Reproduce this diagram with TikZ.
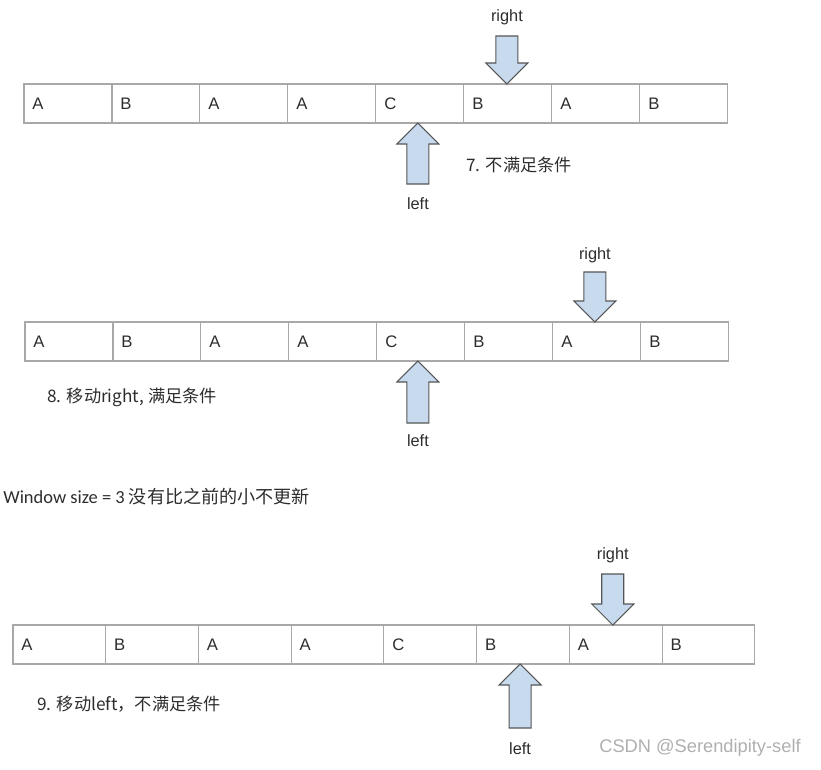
\documentclass[tikz,border=0pt]{standalone}
\usepackage{xcolor}
\usepackage{fontspec}
\usepackage{tikz}
\usetikzlibrary{positioning, calc}
\setmainfont{Liberation Sans}
\newfontfamily\cjk{Noto Sans CJK SC}
\newfontfamily\cali{Carlito}
\definecolor{cellgray}{RGB}{168,168,168}
\definecolor{txtdark}{RGB}{45,45,45}
\definecolor{arrfill}{RGB}{200,219,238}
\definecolor{arrline}{RGB}{85,85,85}
\definecolor{wmgray}{RGB}{175,175,175}
\tikzset{
  cell/.style={rectangle, draw=cellgray, text width=#1, align=left,
    minimum height=0.78cm, inner xsep=0.17cm, inner ysep=0pt, outer sep=0pt,
    font=\fontsize{9.5}{11}\selectfont, text=txtdark, line width=0.6pt},
  ptrlbl/.style={font=\fontsize{9.3}{11}\selectfont, text=txtdark, inner sep=0pt},
  steptxt/.style={font=\cjk\fontsize{9.8}{12}\selectfont, text=txtdark, inner sep=0pt, anchor=west},
  blkarrow/.style={draw=arrline, fill=arrfill, line width=0.6pt, line join=miter},
  dnarrow/.pic={\draw[blkarrow] (0,0) -- (21,-21) -- (11,-21) -- (11,-#1)
    -- (-11,-#1) -- (-11,-21) -- (-21,-21) -- cycle;},
  uparrow/.pic={\draw[blkarrow] (0,0) -- (21,21) -- (11,21) -- (11,#1)
    -- (-11,#1) -- (-11,21) -- (-21,21) -- cycle;}
}

\begin{document}
\begin{tikzpicture}[x=0.02cm, y=-0.02cm]
  \useasboundingbox (0,0) rectangle (821,769);

  % Step 7 row
  \node[cell=1.42cm, anchor=north west] (a1) at (24,84) {A};
  \node[cell=1.42cm, right=0pt of a1] (a2) {B};
  \node[cell=1.42cm, right=0pt of a2] (a3) {A};
  \node[cell=1.42cm, right=0pt of a3] (a4) {A};
  \node[cell=1.42cm, right=0pt of a4] (a5) {C};
  \node[cell=1.42cm, right=0pt of a5] (a6) {B};
  \node[cell=1.42cm, right=0pt of a6] (a7) {A};
  \node[cell=1.42cm, right=0pt of a7] (a8) {B};

  % Step 7 pointers
  \pic at ([xshift=-0.02cm]a6.north) {dnarrow=48};
  \pic at ([xshift=-0.04cm]a5.south) {uparrow=61};
  \node[ptrlbl] (rt1) at ($(a6.north)+(-1,-67)$) {right};
  \node[ptrlbl] (lf1) at ($(a5.south)+(-2,81)$) {left};
  \node[steptxt] (cap1) at (466,165) {7. 不满足条件};

  % Step 8 row
  \node[cell=1.42cm, anchor=north west] (b1) at (25,322) {A};
  \node[cell=1.42cm, right=0pt of b1] (b2) {B};
  \node[cell=1.42cm, right=0pt of b2] (b3) {A};
  \node[cell=1.42cm, right=0pt of b3] (b4) {A};
  \node[cell=1.42cm, right=0pt of b4] (b5) {C};
  \node[cell=1.42cm, right=0pt of b5] (b6) {B};
  \node[cell=1.42cm, right=0pt of b6] (b7) {A};
  \node[cell=1.42cm, right=0pt of b7] (b8) {B};

  % Step 8 pointers
  \pic at ([xshift=-0.04cm]b7.north) {dnarrow=50};
  \pic at ([xshift=-0.06cm]b5.south) {uparrow=62};
  \node[ptrlbl] (rt2) at ($(b7.north)+(-2,-67)$) {right};
  \node[ptrlbl] (lf2) at ($(b5.south)+(-3,80)$) {left};
  \node[steptxt] (cap2) at (47,397) {8. 移动right, 满足条件};

  % Window size note
  \node[inner sep=0pt, anchor=west, text=txtdark] (note) at (3,497)
    {{\cali\fontsize{10.5}{12}\selectfont Window size = 3 }{\cjk\fontsize{10.3}{12}\selectfont 没有比之前的小不更新}};

  % Step 9 row
  \node[cell=1.515cm, anchor=north west] (c1) at (13,625) {A};
  \node[cell=1.515cm, right=0pt of c1] (c2) {B};
  \node[cell=1.515cm, right=0pt of c2] (c3) {A};
  \node[cell=1.515cm, right=0pt of c3] (c4) {A};
  \node[cell=1.515cm, right=0pt of c4] (c5) {C};
  \node[cell=1.515cm, right=0pt of c5] (c6) {B};
  \node[cell=1.515cm, right=0pt of c6] (c7) {A};
  \node[cell=1.515cm, right=0pt of c7] (c8) {B};

  % Step 9 pointers
  \pic at ([xshift=-0.06cm]c7.north) {dnarrow=51};
  \pic at ([xshift=-0.06cm]c6.south) {uparrow=64};
  \node[ptrlbl] (rt3) at ($(c7.north)+(-3,-70)$) {right};
  \node[ptrlbl] (lf3) at ($(c6.south)+(-3,85)$) {left};
  \node[steptxt] (cap3) at (37,704) {9. 移动left，不满足条件};

  % Watermark
  \node[inner sep=0pt, anchor=west, text=wmgray, font=\fontsize{10.4}{12}\selectfont] (wm) at (599,748) {CSDN @Serendipity-self};
\end{tikzpicture}
\end{document}
